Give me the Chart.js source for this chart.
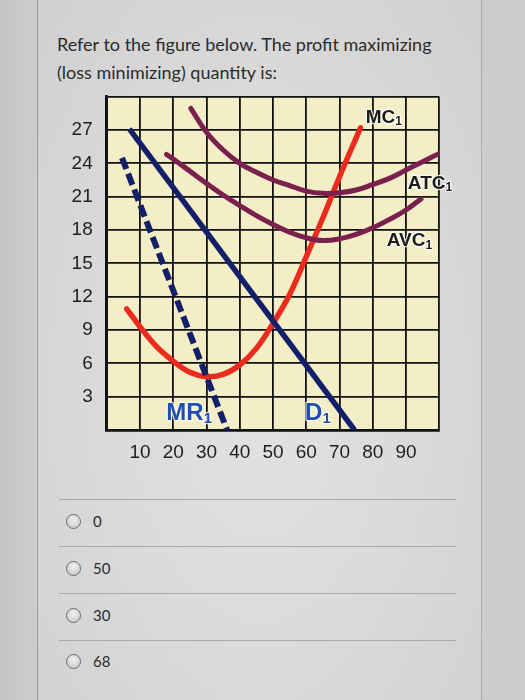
<!DOCTYPE html>
<html>
<head>
<meta charset="utf-8">
<script src="https://cdn.jsdelivr.net/npm/chart.js@4.4.1/dist/chart.umd.min.js"></script>
<style>
  html, body { margin:0; padding:0; }
  body { width:525px; height:700px; overflow:hidden; position:relative;
         background: linear-gradient(90deg,#c4c4c4 0%,#cdcdcd 7%,#d2d2d2 50%,#cbcbcb 100%); font-family: Lato, "Open Sans", sans-serif; }
  #card { position:absolute; left:37px; top:-5px; width:443px; height:720px;
          background: radial-gradient(ellipse at 50% 55%, #e2e2e2 0%, #d9d9d9 55%, #d0d0d0 100%);
          border-left:1px solid #9c9c9c; border-right:1px solid #a8a8a8; }
  .q { position:absolute; left:57px; font-size:18px; color:#2b2b2b; white-space:nowrap; }
  .sep { position:absolute; left:59px; width:397px; height:1px; background:#a9a9a9; }
  .radio { position:absolute; left:66px; width:13px; height:13px; border-radius:50%;
           border:1.3px solid #6a6a6a; background: radial-gradient(circle at 50% 35%, #f0f0f0, #c4c4c4); }
  .opt { position:absolute; left:93px; font-size:15px; color:#2b2b2b; }
  #c { position:absolute; left:40px; top:85px; }
</style>
</head>
<body>
<div id="card"></div>
<div class="q" style="top:33px">Refer to the figure below. The profit maximizing</div>
<div class="q" style="top:61px">(loss minimizing) quantity is:</div>
<canvas id="c" width="420" height="390" style="width:420px;height:390px"></canvas>
<div class="sep" style="top:499px"></div>
<div class="sep" style="top:546px"></div>
<div class="sep" style="top:593px"></div>
<div class="sep" style="top:640px"></div>
<div class="radio" style="top:514px"></div><div class="opt" style="top:512px">0</div>
<div class="radio" style="top:561px"></div><div class="opt" style="top:559px">50</div>
<div class="radio" style="top:608px"></div><div class="opt" style="top:606px">30</div>
<div class="radio" style="top:654px"></div><div class="opt" style="top:652px">68</div>
<script>
// Tick labels
const xTicks = [10,20,30,40,50,60,70,80,90];
const yTicks = [3,6,9,12,15,18,21,24,27];

// Curves (quantity, price)
const mcQ  = [6, 10, 15, 20, 25, 30, 35, 40, 45, 50, 55, 60, 65, 70, 76.3];
const mcP  = [10.9, 9.3, 7.5, 6.2, 5.2, 4.8, 5.0, 5.85, 7.35, 9.6, 12.2, 15.6, 19.1, 22.8, 27.2];
const atcQ = [25.3, 30, 35, 40, 45, 50, 55, 60, 65, 70, 75, 80, 85, 90, 95, 100];
const atcP = [28.95, 26.8, 25.2, 24.0, 23.2, 22.5, 22.0, 21.5, 21.3, 21.35, 21.6, 22.1, 22.65, 23.4, 24.15, 24.9];
const avcQ = [18, 20, 25, 30, 35, 40, 45, 50, 55, 60, 65, 70, 75, 80, 85, 90, 94.5];
const avcP = [24.8, 24.4, 23.3, 22.2, 21.15, 20.2, 19.3, 18.5, 17.8, 17.3, 17.05, 17.2, 17.6, 18.2, 18.95, 19.8, 20.8];
const dQ   = [6.8, 74.5];
const dP   = [27.1, 0];
const mrQ  = [4.6, 36.2];
const mrP  = [24.5, 0];

// Curve labels: [main, subscript, quantity, price, colour, size]
const curveLabels = [
  ['MC', '1', 83.3, 28.1, '#1a1a1a', 19],
  ['ATC', '1', 97.2, 22.2, '#1a1a1a', 19],
  ['AVC', '1', 91.0, 17.0, '#1a1a1a', 19],
  ['MR', '1', 24.8, 1.5, '#1f4fb2', 24],
  ['D', '1', 63.5, 1.5, '#1f4fb2', 24]
];

const pts = (q, p) => q.map((v, i) => ({x: v, y: p[i]}));

const bgPlugin = {
  id: 'bg',
  beforeDraw(chart) {
    const a = chart.chartArea, ctx = chart.ctx;
    ctx.save();
    ctx.fillStyle = '#f3eec6';
    ctx.fillRect(a.left, a.top, a.right - a.left, a.bottom - a.top);
    ctx.restore();
  }
};

const labelPlugin = {
  id: 'curveLabels',
  afterDraw(chart) {
    const ctx = chart.ctx, xs = chart.scales.x, ys = chart.scales.y;
    ctx.save();
    curveLabels.forEach(([t, s, q, p, col, size]) => {
      const cx = xs.getPixelForValue(q), cy = ys.getPixelForValue(p);
      const sub = Math.round(size * 0.62);
      const f1 = 'bold ' + size + 'px "Liberation Sans", Arial, sans-serif';
      const f2 = 'bold ' + sub + 'px "Liberation Sans", Arial, sans-serif';
      ctx.font = f1; const w1 = ctx.measureText(t).width;
      ctx.font = f2; const w2 = ctx.measureText(s).width;
      const x0 = cx - (w1 + w2) / 2;
      ctx.textBaseline = 'middle';
      ctx.lineJoin = 'round';
      ctx.strokeStyle = 'rgba(255,255,255,0.8)'; ctx.lineWidth = 2.5;
      ctx.font = f1;
      ctx.strokeText(t, x0, cy);
      ctx.fillStyle = col; ctx.fillText(t, x0, cy);
      ctx.font = f2;
      ctx.strokeText(s, x0 + w1, cy + size * 0.22);
      ctx.fillText(s, x0 + w1, cy + size * 0.22);
    });
    ctx.restore();
  }
};

const gridCfg = { color: '#111', lineWidth: 1.8, drawTicks: false };
const borderCfg = { display: true, color: '#111', width: 2.8 };
const tickFont = { family: '"Liberation Sans", Arial, sans-serif', size: 19 };

new Chart(document.getElementById('c'), {
  type: 'scatter',
  data: {
    datasets: [
      { data: pts(atcQ, atcP), showLine: true, borderColor: '#7b1f4e', borderWidth: 5, tension: 0.4, pointRadius: 0, borderCapStyle: 'round' },
      { data: pts(avcQ, avcP), showLine: true, borderColor: '#7b1f4e', borderWidth: 5, tension: 0.4, pointRadius: 0, borderCapStyle: 'round' },
      { data: pts(dQ, dP), showLine: true, borderColor: '#141f6a', borderWidth: 5.5, tension: 0, pointRadius: 0 },
      { data: pts(mrQ, mrP), showLine: true, borderColor: '#141f6a', borderWidth: 6, borderDash: [12, 5], tension: 0, pointRadius: 0 },
      { data: pts(mcQ, mcP), showLine: true, borderColor: '#ec2a1e', borderWidth: 5.5, tension: 0.4, pointRadius: 0, borderCapStyle: 'round' }
    ]
  },
  options: {
    responsive: false,
    animation: false,
    devicePixelRatio: 1,
    layout: { padding: { top: 11.7, right: 20.7, left: 0, bottom: 0 } },
    plugins: { legend: { display: false }, tooltip: { enabled: false } },
    scales: {
      x: {
        type: 'linear', min: 0, max: 100,
        afterFit(s) { s.height = 45; s.paddingLeft = 0; s.paddingRight = 0; },
        afterBuildTicks(s) { s.ticks = Array.from({length: 11}, (_, i) => ({value: i * 10})); },
        ticks: {
          padding: 11, color: '#1e1e1e', font: tickFont,
          callback: v => xTicks.includes(v) ? String(v) : ''
        },
        grid: gridCfg, border: borderCfg
      },
      y: {
        type: 'linear', min: 0, max: 30,
        afterFit(s) { s.width = 66.7; s.paddingTop = 0; s.paddingBottom = 0; },
        afterBuildTicks(s) { s.ticks = Array.from({length: 11}, (_, i) => ({value: i * 3})); },
        ticks: {
          padding: 14, color: '#1e1e1e', font: tickFont,
          callback: v => yTicks.includes(v) ? String(v) : ''
        },
        grid: gridCfg, border: borderCfg
      }
    }
  },
  plugins: [bgPlugin, labelPlugin]
});
</script>
</body>
</html>
